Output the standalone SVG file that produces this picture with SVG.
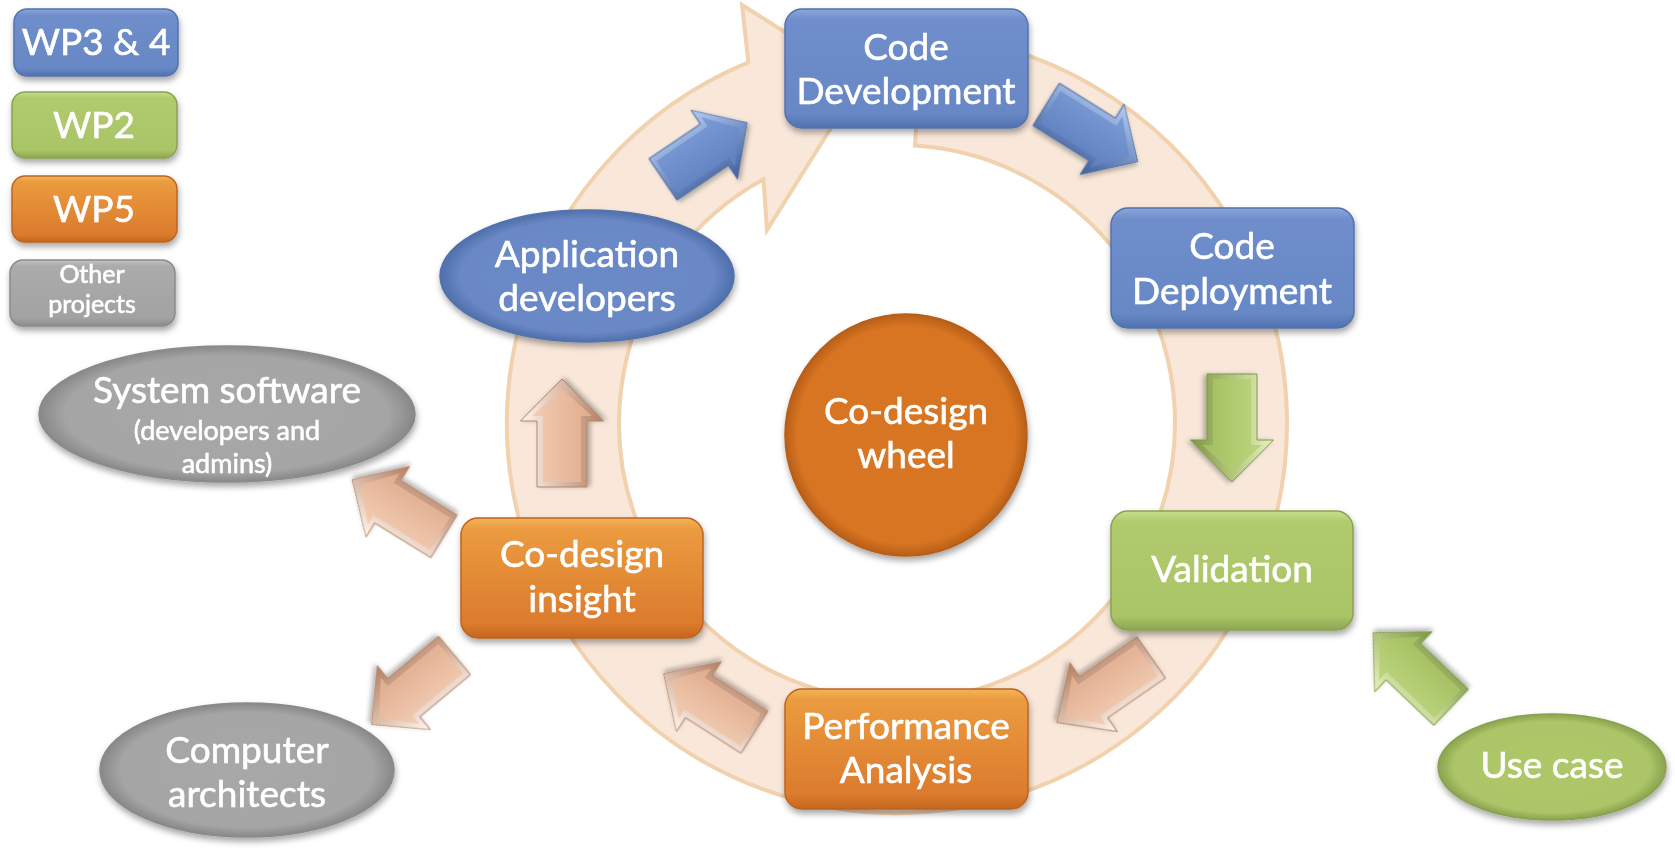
<svg xmlns="http://www.w3.org/2000/svg" xmlns:xlink="http://www.w3.org/1999/xlink" width="1675" height="853" viewBox="0 0 1675 853">
<defs>
  <filter id="sh" x="-20%" y="-20%" width="140%" height="150%">
    <feDropShadow dx="1" dy="4" stdDeviation="3" flood-color="#000" flood-opacity="0.35"/>
  </filter>
  <filter id="shs" x="-20%" y="-20%" width="140%" height="150%">
    <feDropShadow dx="1" dy="3" stdDeviation="2.5" flood-color="#000" flood-opacity="0.3"/>
  </filter>
  <linearGradient id="gBlue" x1="0" y1="0" x2="0" y2="1">
    <stop offset="0" stop-color="#8aa7dc"/>
    <stop offset="0.09" stop-color="#6f8ecb"/>
    <stop offset="0.88" stop-color="#6787c5"/>
    <stop offset="1" stop-color="#5171ae"/>
  </linearGradient>
  <linearGradient id="gGreen" x1="0" y1="0" x2="0" y2="1">
    <stop offset="0" stop-color="#c8de8f"/>
    <stop offset="0.09" stop-color="#b0ca6e"/>
    <stop offset="0.88" stop-color="#aac566"/>
    <stop offset="1" stop-color="#8ea653"/>
  </linearGradient>
  <linearGradient id="gOrange" x1="0" y1="0" x2="0" y2="1">
    <stop offset="0" stop-color="#f4b458"/>
    <stop offset="0.09" stop-color="#eb9b3f"/>
    <stop offset="0.88" stop-color="#db7b2d"/>
    <stop offset="1" stop-color="#c4661f"/>
  </linearGradient>
  <linearGradient id="gGray" x1="0" y1="0" x2="0" y2="1">
    <stop offset="0" stop-color="#c4c4c4"/>
    <stop offset="0.09" stop-color="#ababab"/>
    <stop offset="0.88" stop-color="#a2a2a2"/>
    <stop offset="1" stop-color="#8b8b8b"/>
  </linearGradient>
  <radialGradient id="rBlue" cx="0.5" cy="0.5" r="0.5">
    <stop offset="0" stop-color="#6a8ac7"/>
    <stop offset="0.86" stop-color="#6988c5"/>
    <stop offset="1" stop-color="#4f6fab"/>
  </radialGradient>
  <radialGradient id="rGreen" cx="0.5" cy="0.5" r="0.5">
    <stop offset="0" stop-color="#adc769"/>
    <stop offset="0.86" stop-color="#abc567"/>
    <stop offset="1" stop-color="#8aa34f"/>
  </radialGradient>
  <radialGradient id="rGray" cx="0.5" cy="0.5" r="0.5">
    <stop offset="0" stop-color="#a8a8a8"/>
    <stop offset="0.86" stop-color="#a5a5a5"/>
    <stop offset="1" stop-color="#888888"/>
  </radialGradient>
  <radialGradient id="rOrange" cx="0.5" cy="0.5" r="0.5">
    <stop offset="0" stop-color="#d97624"/>
    <stop offset="0.9" stop-color="#d77422"/>
    <stop offset="1" stop-color="#b85f18"/>
  </radialGradient>
  <linearGradient id="bBlue" x1="0" y1="0" x2="0" y2="1">
    <stop offset="0" stop-color="#b3cbf2"/>
    <stop offset="1" stop-color="#3f5f9c"/>
  </linearGradient>
  <linearGradient id="iBlue" x1="0" y1="0" x2="0" y2="1">
    <stop offset="0" stop-color="#7b9bd6"/>
    <stop offset="1" stop-color="#5e7fbe"/>
  </linearGradient>
  <linearGradient id="bGreen" x1="0" y1="0" x2="0" y2="1">
    <stop offset="0" stop-color="#e6f3bd"/>
    <stop offset="1" stop-color="#7d9742"/>
  </linearGradient>
  <linearGradient id="iGreen" x1="0" y1="0" x2="0" y2="1">
    <stop offset="0" stop-color="#bdd67e"/>
    <stop offset="1" stop-color="#a2bd5e"/>
  </linearGradient>
  <linearGradient id="bPeach" x1="0" y1="0" x2="0" y2="1">
    <stop offset="0" stop-color="#fff6ee"/>
    <stop offset="1" stop-color="#b47f63"/>
  </linearGradient>
  <linearGradient id="iPeach" x1="0" y1="0" x2="0" y2="1">
    <stop offset="0" stop-color="#f2cdb4"/>
    <stop offset="1" stop-color="#e0ab8c"/>
  </linearGradient>
  <path id="ao" d="M-54,-25 H12 V-41.5 L54,0 L12,41.5 V25 H-54 Z"/>
  <path id="ai" d="M-49,-19 H17 V-30 L44,0 L17,30 V19 H-49 Z"/>
  <style>
    .t { font-family: Lato, "Open Sans", "Liberation Sans", sans-serif; fill: #ffffff; stroke: #ffffff; stroke-width: 0.6; text-anchor: middle; font-size: 37px; }
    .ts { font-size: 27px; }
    .tl { font-size: 25px; }
    .blue { fill: url(#gBlue); stroke: #5472ab; stroke-width: 1.5; }
    .green { fill: url(#gGreen); stroke: #8aa24f; stroke-width: 1.5; }
    .orange { fill: url(#gOrange); stroke: #bd6420; stroke-width: 1.5; }
    .gray { fill: url(#gGray); stroke: #8a8a8a; stroke-width: 1.5; }
    .node { filter: url(#sh); }
    .ring { fill: #f9e8da; stroke: #f1d1ae; stroke-width: 4; stroke-linejoin: miter; }
    .arr { filter: url(#shs); }
    .ab { stroke: #4a68a2; stroke-width: 1; }
    .ag { stroke: #7f9a45; stroke-width: 1; }
    .ap { stroke: #b5846a; stroke-width: 1; }
  </style>
</defs>
<rect x="0" y="0" width="1675" height="853" fill="#ffffff"/>

<g id="cycle-ring">
  <path class="ring" d="M 922.2,33.8 A 390 390 0 1 1 748.4,62.4 L 742,5 L 861,80 L 767,230 L 763.5,179.2 A 278 278 0 1 0 914.9,145.6 Z"/>
</g>

<g id="connectors">
  <g class="arr" transform="translate(705,151) rotate(-34) scale(0.94,1)">
    <use xlink:href="#ao" fill="url(#bBlue)" class="ab"/><use xlink:href="#ai" fill="url(#iBlue)"/>
  </g>
  <g class="arr" transform="translate(1092,133) rotate(32)">
    <use xlink:href="#ao" fill="url(#bBlue)" class="ab"/><use xlink:href="#ai" fill="url(#iBlue)"/>
  </g>
  <g class="arr" transform="translate(1232,428) rotate(90)">
    <use xlink:href="#ao" fill="url(#bGreen)" class="ag"/><use xlink:href="#ai" fill="url(#iGreen)"/>
  </g>
  <g class="arr" transform="translate(1104,690) rotate(145.4) scale(1.06,1)">
    <use xlink:href="#ao" fill="url(#bPeach)" class="ap"/><use xlink:href="#ai" fill="url(#iPeach)"/>
  </g>
  <g class="arr" transform="translate(709,703) rotate(-147.3)">
    <use xlink:href="#ao" fill="url(#bPeach)" class="ap"/><use xlink:href="#ai" fill="url(#iPeach)"/>
  </g>
  <g class="arr" transform="translate(562,433) rotate(-90)">
    <use xlink:href="#ao" fill="url(#bPeach)" class="ap"/><use xlink:href="#ai" fill="url(#iPeach)"/>
  </g>
  <g class="arr" transform="translate(398,508) rotate(-148.3)">
    <use xlink:href="#ao" fill="url(#bPeach)" class="ap"/><use xlink:href="#ai" fill="url(#iPeach)"/>
  </g>
  <g class="arr" transform="translate(413,690) rotate(140.2)">
    <use xlink:href="#ao" fill="url(#bPeach)" class="ap"/><use xlink:href="#ai" fill="url(#iPeach)"/>
  </g>
  <g class="arr" transform="translate(1412,670) rotate(-136.3)">
    <use xlink:href="#ao" fill="url(#bGreen)" class="ag"/><use xlink:href="#ai" fill="url(#iGreen)"/>
  </g>
</g>

<g id="legend-wp34" class="node">
  <rect class="blue" x="14" y="9" width="164" height="67" rx="13"/>
  <text class="t" x="96" y="55">WP3 &amp; 4</text>
</g>
<g id="legend-wp2" class="node">
  <rect class="green" x="12" y="92" width="165" height="66" rx="13"/>
  <text class="t" x="94" y="138">WP2</text>
</g>
<g id="legend-wp5" class="node">
  <rect class="orange" x="12" y="176" width="165" height="66" rx="13"/>
  <text class="t" x="94" y="222">WP5</text>
</g>
<g id="legend-other" class="node">
  <rect class="gray" x="10" y="260" width="165" height="66" rx="13"/>
  <text class="t tl" x="92" y="283">Other</text>
  <text class="t tl" x="92" y="313">projects</text>
</g>

<g id="code-development" class="node">
  <rect class="blue" x="785" y="9" width="243" height="119" rx="17"/>
  <text class="t" x="906" y="60">Code</text>
  <text class="t" x="906" y="104">Development</text>
</g>
<g id="code-deployment" class="node">
  <rect class="blue" x="1111" y="208" width="243" height="120" rx="17"/>
  <text class="t" x="1232" y="259">Code</text>
  <text class="t" x="1232" y="304">Deployment</text>
</g>
<g id="validation" class="node">
  <rect class="green" x="1111" y="511" width="242" height="119" rx="17"/>
  <text class="t" x="1232" y="582">Validation</text>
</g>
<g id="performance-analysis" class="node">
  <rect class="orange" x="785" y="689" width="243" height="120" rx="17"/>
  <text class="t" x="906" y="739">Performance</text>
  <text class="t" x="906" y="783">Analysis</text>
</g>
<g id="codesign-insight" class="node">
  <rect class="orange" x="461" y="518" width="242" height="120" rx="17"/>
  <text class="t" x="582" y="567">Co-design</text>
  <text class="t" x="582" y="612">insight</text>
</g>
<g id="application-developers" class="node">
  <ellipse cx="587" cy="276" rx="147" ry="66" fill="url(#rBlue)" stroke="#5472ab" stroke-width="1.5"/>
  <text class="t" x="587" y="267">Application</text>
  <text class="t" x="587" y="311">developers</text>
</g>
<g id="codesign-wheel" class="node">
  <circle cx="906" cy="435" r="121" fill="url(#rOrange)" stroke="#b75e18" stroke-width="1.5"/>
  <text class="t" x="906" y="424">Co-design</text>
  <text class="t" x="906" y="468">wheel</text>
</g>
<g id="system-software" class="node">
  <ellipse cx="227" cy="414" rx="188" ry="68" fill="url(#rGray)" stroke="#8a8a8a" stroke-width="1.5"/>
  <text class="t" x="227" y="403">System software</text>
  <text class="t ts" x="227" y="440">(developers and</text>
  <text class="t ts" x="227" y="473">admins)</text>
</g>
<g id="computer-architects" class="node">
  <ellipse cx="247" cy="770" rx="147" ry="67" fill="url(#rGray)" stroke="#8a8a8a" stroke-width="1.5"/>
  <text class="t" x="247" y="763">Computer</text>
  <text class="t" x="247" y="807">architects</text>
</g>
<g id="use-case" class="node">
  <ellipse cx="1552" cy="767" rx="114" ry="53" fill="url(#rGreen)" stroke="#8aa24f" stroke-width="1.5"/>
  <text class="t" x="1552" y="778">Use case</text>
</g>
</svg>
